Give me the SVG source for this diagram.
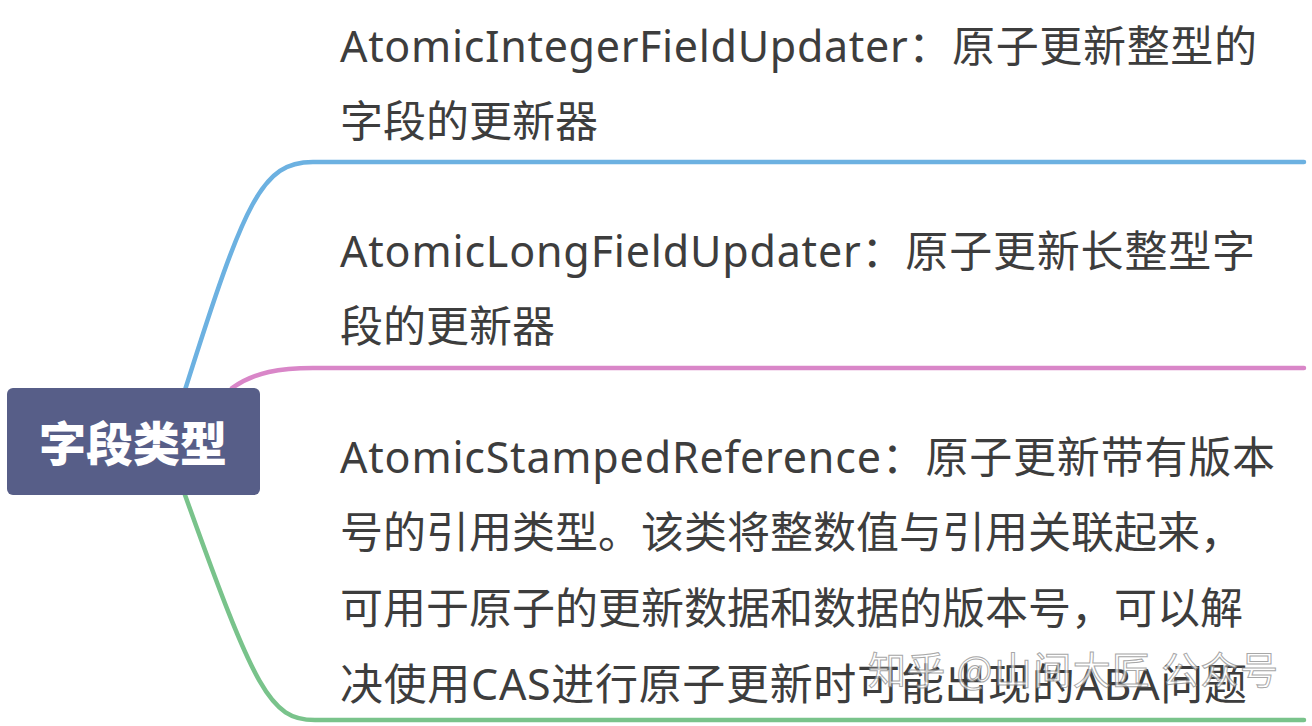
<svg xmlns="http://www.w3.org/2000/svg" width="1312" height="726" viewBox="0 0 1312 726">
<style>
.t{font-family:"Noto Sans","Noto Sans CJK SC",sans-serif;font-size:43px;fill:#3d3d3d}
.root{font-family:"Noto Sans CJK SC",sans-serif;font-size:47px;font-weight:900;fill:#ffffff}
.c{fill:none;stroke-width:4.5;stroke-linecap:round}
.wm{font-family:"Noto Sans CJK SC",sans-serif;font-size:38px;fill:#ffffff;stroke:#8a8a8a;stroke-width:1;opacity:0.75}
</style>
<rect width="1312" height="726" fill="#ffffff"/>
<g id="connectors">
<path class="c" stroke="#6cb1e1" d="M185,390 C245,200 262,162 313,162 L1304,162"/>
<path class="c" stroke="#d986c8" d="M232,388 C255,372 280,368 313,368 L1304,368"/>
<path class="c" stroke="#79c38b" d="M185,495 C255,690 270,720 315,720 L1304,720"/>
</g>
<g id="root">
<rect x="7" y="388" width="253" height="107" rx="6" fill="#575e88"/>
<text class="root" x="133" y="461" text-anchor="middle">字段类型</text>
</g>
<g id="n1">
<text class="t" x="340" y="62" textLength="917" lengthAdjust="spacing">AtomicIntegerFieldUpdater：原子更新整型的</text>
<text class="t" x="340" y="137">字段的更新器</text>
</g>
<g id="n2">
<text class="t" x="340" y="267" textLength="915" lengthAdjust="spacing">AtomicLongFieldUpdater：原子更新长整型字</text>
<text class="t" x="340" y="342">段的更新器</text>
</g>
<g id="n3">
<text class="t" x="340" y="473" textLength="935" lengthAdjust="spacing">AtomicStampedReference：原子更新带有版本</text>
<text class="t" x="340" y="548">号的引用类型。该类将整数值与引用关联起来，</text>
<text class="t" x="340" y="624">可用于原子的更新数据和数据的版本号，可以解</text>
<text class="t" x="340" y="700" textLength="907" lengthAdjust="spacing">决使用CAS进行原子更新时可能出现的ABA问题</text>
</g>
<g id="watermark">
<text class="wm" x="868" y="684" textLength="410" lengthAdjust="spacing">知乎 @山间大匠 公众号</text>
</g>
</svg>
